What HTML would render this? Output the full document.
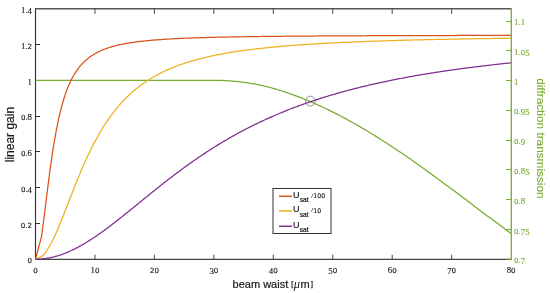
<!DOCTYPE html>
<html><head><meta charset="utf-8"><title>plot</title>
<style>
html,body{margin:0;padding:0;background:#fff;}
svg{display:block}
.tk{font-family:"Liberation Serif",serif;font-size:9px;fill:#222;stroke:#222;stroke-width:0.15px}
.g{fill:#77ac30;stroke:#77ac30}
.lb{font-family:"Liberation Sans",sans-serif;font-size:11px;fill:#1a1a1a;stroke:#1a1a1a;stroke-width:0.2px}
.lb.g{fill:#77ac30;stroke:#77ac30;stroke-width:0.1px}
.lg{font-family:"Liberation Sans",sans-serif;font-size:9px;fill:#151515;stroke:#151515;stroke-width:0.15px}
</style></head><body>
<svg width="550" height="293" viewBox="0 0 550 293">
<rect width="550" height="293" fill="#fff"/>
<path d="M35.5,259.90 V8.10" fill="none" stroke="#333333" stroke-width="1.15"/>
<path d="M35.5,8.70 H511.1" fill="none" stroke="#555" stroke-width="1.5"/>
<path d="M35.5,259.35 H511.1" fill="none" stroke="#444" stroke-width="1.25"/>
<path d="M35.5,223.5 H40.0 M35.5,187.5 H40.0 M35.5,151.5 H40.0 M35.5,116.5 H40.0 M35.5,80.5 H40.0 M35.5,44.5 H40.0" fill="none" stroke="#333333" stroke-width="1"/>
<path d="M94.95,259.2 V254.7 M94.95,8.8 V13.9 M154.40,259.2 V254.7 M154.40,8.8 V13.9 M213.85,259.2 V254.7 M213.85,8.8 V13.9 M273.30,259.2 V254.7 M273.30,8.8 V13.9 M332.75,259.2 V254.7 M332.75,8.8 V13.9 M392.20,259.2 V254.7 M392.20,8.8 V13.9 M451.65,259.2 V254.7 M451.65,8.8 V13.9" fill="none" stroke="#333333" stroke-width="0.9"/>
<circle cx="310.3" cy="101.1" r="4.9" fill="none" stroke="#777" stroke-width="0.8"/>
<g fill="none" stroke-width="1.25" stroke-linejoin="round">
<path d="M35.50,80.40 L200.00,80.40 L202.00,80.40 L204.00,80.40 L206.00,80.40 L208.00,80.40 L210.00,80.40 L212.00,80.40 L214.00,80.40 L216.00,80.40 L218.00,80.40 L220.00,80.40 L222.00,80.45 L224.00,80.55 L226.00,80.66 L228.00,80.78 L230.00,80.93 L232.00,81.08 L234.00,81.26 L236.00,81.45 L238.00,81.65 L240.00,81.88 L242.00,82.12 L244.00,82.38 L246.00,82.65 L248.00,82.95 L250.00,83.26 L252.00,83.60 L254.00,83.95 L256.00,84.32 L258.00,84.71 L260.00,85.12 L262.00,85.55 L264.00,86.01 L266.00,86.48 L268.00,86.98 L270.00,87.49 L272.00,88.02 L274.00,88.58 L276.00,89.15 L278.00,89.74 L280.00,90.35 L282.00,90.98 L284.00,91.63 L286.00,92.29 L288.00,92.97 L290.00,93.67 L292.00,94.38 L294.00,95.10 L296.00,95.85 L298.00,96.60 L300.00,97.38 L302.00,98.16 L304.00,98.96 L306.00,99.78 L308.00,100.61 L310.00,101.45 L312.00,102.31 L314.00,103.18 L316.00,104.06 L318.00,104.96 L320.00,105.87 L322.00,106.80 L324.00,107.74 L326.00,108.69 L328.00,109.65 L330.00,110.63 L332.00,111.62 L334.00,112.62 L336.00,113.64 L338.00,114.67 L340.00,115.71 L342.00,116.76 L344.00,117.83 L346.00,118.90 L348.00,119.99 L350.00,121.09 L352.00,122.20 L354.00,123.33 L356.00,124.46 L358.00,125.61 L360.00,126.76 L362.00,127.93 L364.00,129.11 L366.00,130.30 L368.00,131.50 L370.00,132.71 L372.00,133.93 L374.00,135.16 L376.00,136.40 L378.00,137.65 L380.00,138.91 L382.00,140.18 L384.00,141.45 L386.00,142.74 L388.00,144.04 L390.00,145.34 L392.00,146.66 L394.00,147.98 L396.00,149.31 L398.00,150.65 L400.00,152.00 L402.00,153.35 L404.00,154.71 L406.00,156.09 L408.00,157.47 L410.00,158.85 L412.00,160.25 L414.00,161.65 L416.00,163.05 L418.00,164.47 L420.00,165.89 L422.00,167.32 L424.00,168.75 L426.00,170.20 L428.00,171.64 L430.00,173.09 L432.00,174.55 L434.00,176.01 L436.00,177.48 L438.00,178.95 L440.00,180.43 L442.00,181.91 L444.00,183.39 L446.00,184.88 L448.00,186.37 L450.00,187.86 L452.00,189.36 L454.00,190.85 L456.00,192.35 L458.00,193.85 L460.00,195.35 L462.00,196.86 L464.00,198.36 L466.00,199.86 L468.00,201.37 L470.00,202.87 L472.00,204.37 L474.00,205.88 L476.00,207.38 L478.00,208.88 L480.00,210.38 L482.00,211.88 L484.00,213.38 L486.00,214.88 L488.00,216.38 L490.00,217.87 L492.00,219.36 L494.00,220.86 L496.00,222.34 L498.00,223.83 L500.00,225.32 L502.00,226.80 L504.00,228.28 L506.00,229.76 L508.00,231.23 L510.00,232.70 L511.10,233.51" stroke="#77ac30"/>
<path d="M35.50,259.20 L41.45,236.90 L42.62,228.52 L43.80,219.49 L44.98,210.07 L46.15,200.51 L47.33,190.99 L48.51,181.67 L49.68,172.66 L50.86,164.05 L52.04,155.89 L53.22,148.21 L54.39,141.01 L55.57,134.28 L56.75,128.03 L57.92,122.22 L59.10,116.84 L60.28,111.85 L61.46,107.24 L62.63,102.97 L63.81,99.02 L64.99,95.36 L66.16,91.98 L67.34,88.84 L68.52,85.93 L69.69,83.23 L70.87,80.72 L72.05,78.39 L73.23,76.21 L74.40,74.19 L75.58,72.30 L76.76,70.54 L77.93,68.90 L79.11,67.35 L80.29,65.91 L81.47,64.56 L82.64,63.29 L83.82,62.09 L85.00,60.97 L86.17,59.92 L87.35,58.92 L88.53,57.98 L89.71,57.09 L90.88,56.26 L92.06,55.46 L93.24,54.71 L94.41,54.00 L95.59,53.33 L96.77,52.69 L97.94,52.08 L99.12,51.50 L100.30,50.96 L101.48,50.43 L102.65,49.93 L103.83,49.46 L105.01,49.01 L106.18,48.58 L107.36,48.16 L108.54,47.77 L109.72,47.39 L110.89,47.03 L112.07,46.69 L113.25,46.35 L114.42,46.04 L115.60,45.73 L116.78,45.44 L117.96,45.16 L119.13,44.89 L120.31,44.63 L121.49,44.39 L122.66,44.15 L123.84,43.92 L125.02,43.69 L126.19,43.48 L127.37,43.27 L128.55,43.08 L129.73,42.88 L130.90,42.70 L132.08,42.52 L133.26,42.35 L134.43,42.18 L135.61,42.02 L136.79,41.87 L137.97,41.72 L139.14,41.57 L140.32,41.43 L141.50,41.30 L142.67,41.16 L143.85,41.04 L145.03,40.91 L146.21,40.79 L147.38,40.68 L148.56,40.56 L149.74,40.45 L150.91,40.35 L152.09,40.24 L153.27,40.14 L154.44,40.05 L155.62,39.95 L156.80,39.86 L157.98,39.77 L159.15,39.68 L160.33,39.60 L161.51,39.52 L162.68,39.44 L163.86,39.36 L165.04,39.28 L166.22,39.21 L167.39,39.14 L168.57,39.07 L169.75,39.00 L170.92,38.93 L172.10,38.87 L173.28,38.81 L174.46,38.74 L175.63,38.68 L176.81,38.63 L177.99,38.57 L179.16,38.51 L180.34,38.46 L181.52,38.40 L182.69,38.35 L183.87,38.30 L185.05,38.25 L186.23,38.20 L187.40,38.16 L188.58,38.11 L189.76,38.06 L190.93,38.02 L192.11,37.98 L193.29,37.93 L194.47,37.89 L195.64,37.85 L196.82,37.81 L198.00,37.77 L199.17,37.74 L200.35,37.70 L201.53,37.66 L202.70,37.63 L203.88,37.59 L205.06,37.56 L206.24,37.52 L207.41,37.49 L208.59,37.46 L209.77,37.43 L210.94,37.40 L212.12,37.37 L213.30,37.34 L214.48,37.31 L215.65,37.28 L216.83,37.25 L218.01,37.22 L219.18,37.20 L220.36,37.17 L221.54,37.14 L222.72,37.12 L223.89,37.09 L225.07,37.07 L226.25,37.04 L227.42,37.02 L228.60,37.00 L229.78,36.98 L230.95,36.95 L232.13,36.93 L233.31,36.91 L234.49,36.89 L235.66,36.87 L236.84,36.85 L238.02,36.83 L239.19,36.81 L240.37,36.79 L241.55,36.77 L242.73,36.75 L243.90,36.73 L245.08,36.71 L246.26,36.69 L247.43,36.68 L248.61,36.66 L249.79,36.64 L250.97,36.63 L252.14,36.61 L253.32,36.59 L254.50,36.58 L255.67,36.56 L256.85,36.55 L258.03,36.53 L259.20,36.52 L260.38,36.50 L261.56,36.49 L262.74,36.47 L263.91,36.46 L265.09,36.44 L266.27,36.43 L267.44,36.42 L268.62,36.40 L269.80,36.39 L270.98,36.38 L272.15,36.36 L273.33,36.35 L274.51,36.34 L275.68,36.33 L276.86,36.32 L278.04,36.30 L279.22,36.29 L280.39,36.28 L281.57,36.27 L282.75,36.26 L283.92,36.25 L285.10,36.24 L286.28,36.23 L287.45,36.22 L288.63,36.21 L289.81,36.19 L290.99,36.18 L292.16,36.17 L293.34,36.17 L294.52,36.16 L295.69,36.15 L296.87,36.14 L298.05,36.13 L299.23,36.12 L300.40,36.11 L301.58,36.10 L302.76,36.09 L303.93,36.08 L305.11,36.07 L306.29,36.07 L307.47,36.06 L308.64,36.05 L309.82,36.04 L311.00,36.03 L312.17,36.02 L313.35,36.02 L314.53,36.01 L315.70,36.00 L316.88,35.99 L318.06,35.99 L319.24,35.98 L320.41,35.97 L321.59,35.96 L322.77,35.96 L323.94,35.95 L325.12,35.94 L326.30,35.94 L327.48,35.93 L328.65,35.92 L329.83,35.92 L331.01,35.91 L332.18,35.90 L333.36,35.90 L334.54,35.89 L335.72,35.88 L336.89,35.88 L338.07,35.87 L339.25,35.87 L340.42,35.86 L341.60,35.85 L342.78,35.85 L343.95,35.84 L345.13,35.84 L346.31,35.83 L347.49,35.83 L348.66,35.82 L349.84,35.82 L351.02,35.81 L352.19,35.80 L353.37,35.80 L354.55,35.79 L355.73,35.79 L356.90,35.78 L358.08,35.78 L359.26,35.77 L360.43,35.77 L361.61,35.76 L362.79,35.76 L363.96,35.75 L365.14,35.75 L366.32,35.75 L367.50,35.74 L368.67,35.74 L369.85,35.73 L371.03,35.73 L372.20,35.72 L373.38,35.72 L374.56,35.71 L375.74,35.71 L376.91,35.71 L378.09,35.70 L379.27,35.70 L380.44,35.69 L381.62,35.69 L382.80,35.68 L383.98,35.68 L385.15,35.68 L386.33,35.67 L387.51,35.67 L388.68,35.67 L389.86,35.66 L391.04,35.66 L392.21,35.65 L393.39,35.65 L394.57,35.65 L395.75,35.64 L396.92,35.64 L398.10,35.64 L399.28,35.63 L400.45,35.63 L401.63,35.63 L402.81,35.62 L403.99,35.62 L405.16,35.62 L406.34,35.61 L407.52,35.61 L408.69,35.61 L409.87,35.60 L411.05,35.60 L412.23,35.60 L413.40,35.59 L414.58,35.59 L415.76,35.59 L416.93,35.58 L418.11,35.58 L419.29,35.58 L420.46,35.57 L421.64,35.57 L422.82,35.57 L424.00,35.57 L425.17,35.56 L426.35,35.56 L427.53,35.56 L428.70,35.55 L429.88,35.55 L431.06,35.55 L432.24,35.55 L433.41,35.54 L434.59,35.54 L435.77,35.54 L436.94,35.54 L438.12,35.53 L439.30,35.53 L440.48,35.53 L441.65,35.53 L442.83,35.52 L444.01,35.52 L445.18,35.52 L446.36,35.52 L447.54,35.51 L448.71,35.51 L449.89,35.51 L451.07,35.51 L452.25,35.50 L453.42,35.50 L454.60,35.50 L455.78,35.50 L456.95,35.49 L458.13,35.49 L459.31,35.49 L460.49,35.49 L461.66,35.49 L462.84,35.48 L464.02,35.48 L465.19,35.48 L466.37,35.48 L467.55,35.48 L468.73,35.47 L469.90,35.47 L471.08,35.47 L472.26,35.47 L473.43,35.47 L474.61,35.46 L475.79,35.46 L476.96,35.46 L478.14,35.46 L479.32,35.46 L480.50,35.45 L481.67,35.45 L482.85,35.45 L484.03,35.45 L485.20,35.45 L486.38,35.44 L487.56,35.44 L488.74,35.44 L489.91,35.44 L491.09,35.44 L492.27,35.44 L493.44,35.43 L494.62,35.43 L495.80,35.43 L496.98,35.43 L498.15,35.43 L499.33,35.42 L500.51,35.42 L501.68,35.42 L502.86,35.42 L504.04,35.42 L505.21,35.42 L506.39,35.41 L507.57,35.41 L508.75,35.41 L509.92,35.41 L511.10,35.41" stroke="#d95319"/>
<path d="M35.50,259.20 L41.45,256.75 L42.62,255.70 L43.80,254.48 L44.98,253.08 L46.15,251.52 L47.33,249.80 L48.51,247.94 L49.68,245.94 L50.86,243.80 L52.04,241.54 L53.22,239.17 L54.39,236.70 L55.57,234.13 L56.75,231.48 L57.92,228.75 L59.10,225.96 L60.28,223.11 L61.46,220.21 L62.63,217.27 L63.81,214.30 L64.99,211.30 L66.16,208.29 L67.34,205.26 L68.52,202.23 L69.69,199.21 L70.87,196.19 L72.05,193.18 L73.23,190.19 L74.40,187.22 L75.58,184.27 L76.76,181.36 L77.93,178.48 L79.11,175.63 L80.29,172.82 L81.47,170.05 L82.64,167.32 L83.82,164.64 L85.00,162.00 L86.17,159.40 L87.35,156.85 L88.53,154.35 L89.71,151.90 L90.88,149.49 L92.06,147.14 L93.24,144.83 L94.41,142.57 L95.59,140.36 L96.77,138.20 L97.94,136.08 L99.12,134.01 L100.30,131.99 L101.48,130.02 L102.65,128.09 L103.83,126.20 L105.01,124.36 L106.18,122.56 L107.36,120.81 L108.54,119.10 L109.72,117.42 L110.89,115.79 L112.07,114.20 L113.25,112.64 L114.42,111.13 L115.60,109.65 L116.78,108.20 L117.96,106.79 L119.13,105.42 L120.31,104.08 L121.49,102.77 L122.66,101.49 L123.84,100.24 L125.02,99.03 L126.19,97.84 L127.37,96.68 L128.55,95.55 L129.73,94.45 L130.90,93.37 L132.08,92.32 L133.26,91.29 L134.43,90.29 L135.61,89.31 L136.79,88.36 L137.97,87.42 L139.14,86.51 L140.32,85.62 L141.50,84.75 L142.67,83.91 L143.85,83.08 L145.03,82.27 L146.21,81.48 L147.38,80.70 L148.56,79.95 L149.74,79.21 L150.91,78.49 L152.09,77.78 L153.27,77.09 L154.44,76.42 L155.62,75.76 L156.80,75.11 L157.98,74.48 L159.15,73.86 L160.33,73.26 L161.51,72.67 L162.68,72.09 L163.86,71.52 L165.04,70.97 L166.22,70.43 L167.39,69.90 L168.57,69.38 L169.75,68.87 L170.92,68.37 L172.10,67.89 L173.28,67.41 L174.46,66.94 L175.63,66.48 L176.81,66.03 L177.99,65.59 L179.16,65.16 L180.34,64.74 L181.52,64.33 L182.69,63.92 L183.87,63.52 L185.05,63.13 L186.23,62.75 L187.40,62.38 L188.58,62.01 L189.76,61.65 L190.93,61.29 L192.11,60.95 L193.29,60.61 L194.47,60.27 L195.64,59.94 L196.82,59.62 L198.00,59.31 L199.17,59.00 L200.35,58.69 L201.53,58.39 L202.70,58.10 L203.88,57.81 L205.06,57.53 L206.24,57.25 L207.41,56.98 L208.59,56.71 L209.77,56.45 L210.94,56.19 L212.12,55.93 L213.30,55.68 L214.48,55.44 L215.65,55.20 L216.83,54.96 L218.01,54.73 L219.18,54.50 L220.36,54.27 L221.54,54.05 L222.72,53.83 L223.89,53.62 L225.07,53.41 L226.25,53.20 L227.42,53.00 L228.60,52.80 L229.78,52.60 L230.95,52.41 L232.13,52.22 L233.31,52.03 L234.49,51.84 L235.66,51.66 L236.84,51.48 L238.02,51.31 L239.19,51.13 L240.37,50.96 L241.55,50.79 L242.73,50.63 L243.90,50.46 L245.08,50.30 L246.26,50.15 L247.43,49.99 L248.61,49.84 L249.79,49.69 L250.97,49.54 L252.14,49.39 L253.32,49.25 L254.50,49.10 L255.67,48.96 L256.85,48.83 L258.03,48.69 L259.20,48.56 L260.38,48.42 L261.56,48.29 L262.74,48.16 L263.91,48.04 L265.09,47.91 L266.27,47.79 L267.44,47.67 L268.62,47.55 L269.80,47.43 L270.98,47.31 L272.15,47.20 L273.33,47.09 L274.51,46.98 L275.68,46.86 L276.86,46.76 L278.04,46.65 L279.22,46.54 L280.39,46.44 L281.57,46.34 L282.75,46.23 L283.92,46.13 L285.10,46.04 L286.28,45.94 L287.45,45.84 L288.63,45.75 L289.81,45.65 L290.99,45.56 L292.16,45.47 L293.34,45.38 L294.52,45.29 L295.69,45.20 L296.87,45.12 L298.05,45.03 L299.23,44.95 L300.40,44.86 L301.58,44.78 L302.76,44.70 L303.93,44.62 L305.11,44.54 L306.29,44.46 L307.47,44.38 L308.64,44.30 L309.82,44.23 L311.00,44.15 L312.17,44.08 L313.35,44.01 L314.53,43.94 L315.70,43.86 L316.88,43.79 L318.06,43.72 L319.24,43.66 L320.41,43.59 L321.59,43.52 L322.77,43.45 L323.94,43.39 L325.12,43.32 L326.30,43.26 L327.48,43.20 L328.65,43.13 L329.83,43.07 L331.01,43.01 L332.18,42.95 L333.36,42.89 L334.54,42.83 L335.72,42.77 L336.89,42.71 L338.07,42.66 L339.25,42.60 L340.42,42.55 L341.60,42.49 L342.78,42.44 L343.95,42.38 L345.13,42.33 L346.31,42.27 L347.49,42.22 L348.66,42.17 L349.84,42.12 L351.02,42.07 L352.19,42.02 L353.37,41.97 L354.55,41.92 L355.73,41.87 L356.90,41.82 L358.08,41.78 L359.26,41.73 L360.43,41.68 L361.61,41.64 L362.79,41.59 L363.96,41.54 L365.14,41.50 L366.32,41.46 L367.50,41.41 L368.67,41.37 L369.85,41.33 L371.03,41.28 L372.20,41.24 L373.38,41.20 L374.56,41.16 L375.74,41.12 L376.91,41.08 L378.09,41.04 L379.27,41.00 L380.44,40.96 L381.62,40.92 L382.80,40.88 L383.98,40.84 L385.15,40.81 L386.33,40.77 L387.51,40.73 L388.68,40.69 L389.86,40.66 L391.04,40.62 L392.21,40.59 L393.39,40.55 L394.57,40.52 L395.75,40.48 L396.92,40.45 L398.10,40.41 L399.28,40.38 L400.45,40.35 L401.63,40.31 L402.81,40.28 L403.99,40.25 L405.16,40.22 L406.34,40.19 L407.52,40.15 L408.69,40.12 L409.87,40.09 L411.05,40.06 L412.23,40.03 L413.40,40.00 L414.58,39.97 L415.76,39.94 L416.93,39.91 L418.11,39.88 L419.29,39.86 L420.46,39.83 L421.64,39.80 L422.82,39.77 L424.00,39.74 L425.17,39.72 L426.35,39.69 L427.53,39.66 L428.70,39.63 L429.88,39.61 L431.06,39.58 L432.24,39.56 L433.41,39.53 L434.59,39.50 L435.77,39.48 L436.94,39.45 L438.12,39.43 L439.30,39.40 L440.48,39.38 L441.65,39.35 L442.83,39.33 L444.01,39.31 L445.18,39.28 L446.36,39.26 L447.54,39.24 L448.71,39.21 L449.89,39.19 L451.07,39.17 L452.25,39.14 L453.42,39.12 L454.60,39.10 L455.78,39.08 L456.95,39.06 L458.13,39.03 L459.31,39.01 L460.49,38.99 L461.66,38.97 L462.84,38.95 L464.02,38.93 L465.19,38.91 L466.37,38.89 L467.55,38.87 L468.73,38.85 L469.90,38.83 L471.08,38.81 L472.26,38.79 L473.43,38.77 L474.61,38.75 L475.79,38.73 L476.96,38.71 L478.14,38.69 L479.32,38.67 L480.50,38.65 L481.67,38.64 L482.85,38.62 L484.03,38.60 L485.20,38.58 L486.38,38.56 L487.56,38.55 L488.74,38.53 L489.91,38.51 L491.09,38.49 L492.27,38.48 L493.44,38.46 L494.62,38.44 L495.80,38.42 L496.98,38.41 L498.15,38.39 L499.33,38.38 L500.51,38.36 L501.68,38.34 L502.86,38.33 L504.04,38.31 L505.21,38.29 L506.39,38.28 L507.57,38.26 L508.75,38.25 L509.92,38.23 L511.10,38.22" stroke="#edb120"/>
<path d="M35.50,259.20 L41.45,258.95 L42.62,258.85 L43.80,258.72 L44.98,258.57 L46.15,258.41 L47.33,258.22 L48.51,258.02 L49.68,257.80 L50.86,257.56 L52.04,257.30 L53.22,257.02 L54.39,256.73 L55.57,256.41 L56.75,256.08 L57.92,255.73 L59.10,255.36 L60.28,254.98 L61.46,254.58 L62.63,254.16 L63.81,253.72 L64.99,253.27 L66.16,252.80 L67.34,252.31 L68.52,251.81 L69.69,251.30 L70.87,250.76 L72.05,250.22 L73.23,249.65 L74.40,249.07 L75.58,248.48 L76.76,247.88 L77.93,247.26 L79.11,246.62 L80.29,245.97 L81.47,245.31 L82.64,244.64 L83.82,243.95 L85.00,243.26 L86.17,242.55 L87.35,241.82 L88.53,241.09 L89.71,240.35 L90.88,239.59 L92.06,238.82 L93.24,238.05 L94.41,237.26 L95.59,236.47 L96.77,235.66 L97.94,234.85 L99.12,234.03 L100.30,233.19 L101.48,232.35 L102.65,231.51 L103.83,230.65 L105.01,229.79 L106.18,228.92 L107.36,228.05 L108.54,227.17 L109.72,226.28 L110.89,225.38 L112.07,224.48 L113.25,223.58 L114.42,222.67 L115.60,221.76 L116.78,220.84 L117.96,219.91 L119.13,218.99 L120.31,218.06 L121.49,217.12 L122.66,216.19 L123.84,215.24 L125.02,214.30 L126.19,213.36 L127.37,212.41 L128.55,211.46 L129.73,210.51 L130.90,209.55 L132.08,208.60 L133.26,207.65 L134.43,206.69 L135.61,205.73 L136.79,204.77 L137.97,203.82 L139.14,202.86 L140.32,201.90 L141.50,200.94 L142.67,199.99 L143.85,199.03 L145.03,198.07 L146.21,197.12 L147.38,196.16 L148.56,195.21 L149.74,194.26 L150.91,193.31 L152.09,192.36 L153.27,191.42 L154.44,190.47 L155.62,189.53 L156.80,188.59 L157.98,187.65 L159.15,186.72 L160.33,185.79 L161.51,184.86 L162.68,183.93 L163.86,183.01 L165.04,182.08 L166.22,181.17 L167.39,180.25 L168.57,179.34 L169.75,178.43 L170.92,177.53 L172.10,176.63 L173.28,175.73 L174.46,174.84 L175.63,173.95 L176.81,173.06 L177.99,172.18 L179.16,171.31 L180.34,170.43 L181.52,169.56 L182.69,168.70 L183.87,167.84 L185.05,166.98 L186.23,166.13 L187.40,165.28 L188.58,164.44 L189.76,163.60 L190.93,162.76 L192.11,161.93 L193.29,161.11 L194.47,160.29 L195.64,159.47 L196.82,158.66 L198.00,157.85 L199.17,157.05 L200.35,156.26 L201.53,155.46 L202.70,154.68 L203.88,153.89 L205.06,153.11 L206.24,152.34 L207.41,151.57 L208.59,150.81 L209.77,150.05 L210.94,149.30 L212.12,148.55 L213.30,147.80 L214.48,147.06 L215.65,146.33 L216.83,145.60 L218.01,144.87 L219.18,144.15 L220.36,143.44 L221.54,142.73 L222.72,142.02 L223.89,141.32 L225.07,140.63 L226.25,139.94 L227.42,139.25 L228.60,138.57 L229.78,137.89 L230.95,137.22 L232.13,136.55 L233.31,135.89 L234.49,135.23 L235.66,134.58 L236.84,133.93 L238.02,133.29 L239.19,132.65 L240.37,132.01 L241.55,131.38 L242.73,130.76 L243.90,130.14 L245.08,129.52 L246.26,128.91 L247.43,128.30 L248.61,127.70 L249.79,127.10 L250.97,126.51 L252.14,125.92 L253.32,125.34 L254.50,124.76 L255.67,124.18 L256.85,123.61 L258.03,123.04 L259.20,122.48 L260.38,121.92 L261.56,121.36 L262.74,120.81 L263.91,120.27 L265.09,119.73 L266.27,119.19 L267.44,118.65 L268.62,118.12 L269.80,117.60 L270.98,117.08 L272.15,116.56 L273.33,116.04 L274.51,115.53 L275.68,115.03 L276.86,114.53 L278.04,114.03 L279.22,113.53 L280.39,113.04 L281.57,112.56 L282.75,112.07 L283.92,111.59 L285.10,111.12 L286.28,110.65 L287.45,110.18 L288.63,109.71 L289.81,109.25 L290.99,108.79 L292.16,108.34 L293.34,107.89 L294.52,107.44 L295.69,107.00 L296.87,106.56 L298.05,106.12 L299.23,105.69 L300.40,105.26 L301.58,104.83 L302.76,104.41 L303.93,103.99 L305.11,103.57 L306.29,103.16 L307.47,102.75 L308.64,102.34 L309.82,101.94 L311.00,101.54 L312.17,101.14 L313.35,100.74 L314.53,100.35 L315.70,99.96 L316.88,99.58 L318.06,99.19 L319.24,98.81 L320.41,98.44 L321.59,98.06 L322.77,97.69 L323.94,97.32 L325.12,96.96 L326.30,96.60 L327.48,96.24 L328.65,95.88 L329.83,95.52 L331.01,95.17 L332.18,94.82 L333.36,94.48 L334.54,94.13 L335.72,93.79 L336.89,93.45 L338.07,93.12 L339.25,92.78 L340.42,92.45 L341.60,92.13 L342.78,91.80 L343.95,91.48 L345.13,91.16 L346.31,90.84 L347.49,90.52 L348.66,90.21 L349.84,89.90 L351.02,89.59 L352.19,89.28 L353.37,88.98 L354.55,88.68 L355.73,88.38 L356.90,88.08 L358.08,87.78 L359.26,87.49 L360.43,87.20 L361.61,86.91 L362.79,86.62 L363.96,86.34 L365.14,86.06 L366.32,85.78 L367.50,85.50 L368.67,85.22 L369.85,84.95 L371.03,84.68 L372.20,84.41 L373.38,84.14 L374.56,83.87 L375.74,83.61 L376.91,83.35 L378.09,83.09 L379.27,82.83 L380.44,82.57 L381.62,82.32 L382.80,82.07 L383.98,81.81 L385.15,81.57 L386.33,81.32 L387.51,81.07 L388.68,80.83 L389.86,80.59 L391.04,80.35 L392.21,80.11 L393.39,79.87 L394.57,79.64 L395.75,79.41 L396.92,79.17 L398.10,78.94 L399.28,78.72 L400.45,78.49 L401.63,78.26 L402.81,78.04 L403.99,77.82 L405.16,77.60 L406.34,77.38 L407.52,77.16 L408.69,76.95 L409.87,76.73 L411.05,76.52 L412.23,76.31 L413.40,76.10 L414.58,75.89 L415.76,75.69 L416.93,75.48 L418.11,75.28 L419.29,75.08 L420.46,74.87 L421.64,74.68 L422.82,74.48 L424.00,74.28 L425.17,74.09 L426.35,73.89 L427.53,73.70 L428.70,73.51 L429.88,73.32 L431.06,73.13 L432.24,72.94 L433.41,72.76 L434.59,72.57 L435.77,72.39 L436.94,72.21 L438.12,72.02 L439.30,71.84 L440.48,71.67 L441.65,71.49 L442.83,71.31 L444.01,71.14 L445.18,70.96 L446.36,70.79 L447.54,70.62 L448.71,70.45 L449.89,70.28 L451.07,70.11 L452.25,69.95 L453.42,69.78 L454.60,69.62 L455.78,69.45 L456.95,69.29 L458.13,69.13 L459.31,68.97 L460.49,68.81 L461.66,68.65 L462.84,68.49 L464.02,68.34 L465.19,68.18 L466.37,68.03 L467.55,67.88 L468.73,67.72 L469.90,67.57 L471.08,67.42 L472.26,67.27 L473.43,67.13 L474.61,66.98 L475.79,66.83 L476.96,66.69 L478.14,66.54 L479.32,66.40 L480.50,66.26 L481.67,66.12 L482.85,65.98 L484.03,65.84 L485.20,65.70 L486.38,65.56 L487.56,65.42 L488.74,65.29 L489.91,65.15 L491.09,65.02 L492.27,64.88 L493.44,64.75 L494.62,64.62 L495.80,64.49 L496.98,64.36 L498.15,64.23 L499.33,64.10 L500.51,63.97 L501.68,63.84 L502.86,63.72 L504.04,63.59 L505.21,63.47 L506.39,63.34 L507.57,63.22 L508.75,63.10 L509.92,62.98 L511.10,62.86" stroke="#7e2f8e"/>
</g>
<path d="M511.30,259.90 V8.00" fill="none" stroke="#77ac30" stroke-width="1.3"/>
<path d="M511.1,259.2 H506.1 M511.1,229.5 H506.1 M511.1,199.5 H506.1 M511.1,169.5 H506.1 M511.1,140.5 H506.1 M511.1,110.5 H506.1 M511.1,80.5 H506.1 M511.1,50.5 H506.1 M511.1,21.5 H506.1" fill="none" stroke="#77ac30" stroke-width="1"/>
<text x="35.50" y="273" text-anchor="middle" class="tk" aria-label="0"><tspan font-size="7.10px" font-family="DejaVu Sans,sans-serif">0</tspan></text>
<text x="94.95" y="273" text-anchor="middle" class="tk" aria-label="10"><tspan font-size="8.80px">1</tspan><tspan font-size="7.10px" font-family="DejaVu Sans,sans-serif">0</tspan></text>
<text x="154.40" y="273" text-anchor="middle" class="tk" aria-label="20"><tspan font-size="7.10px" font-family="DejaVu Sans,sans-serif">20</tspan></text>
<text x="213.85" y="273" text-anchor="middle" class="tk" aria-label="30"><tspan font-size="8.80px" dy="1.0">3</tspan><tspan font-size="7.10px" font-family="DejaVu Sans,sans-serif" dy="-1.0">0</tspan></text>
<text x="273.30" y="273" text-anchor="middle" class="tk" aria-label="40"><tspan font-size="8.80px" dy="1.0">4</tspan><tspan font-size="7.10px" font-family="DejaVu Sans,sans-serif" dy="-1.0">0</tspan></text>
<text x="332.75" y="273" text-anchor="middle" class="tk" aria-label="50"><tspan font-size="8.80px" dy="1.0">5</tspan><tspan font-size="7.10px" font-family="DejaVu Sans,sans-serif" dy="-1.0">0</tspan></text>
<text x="392.20" y="273" text-anchor="middle" class="tk" aria-label="60"><tspan font-size="8.80px">6</tspan><tspan font-size="7.10px" font-family="DejaVu Sans,sans-serif">0</tspan></text>
<text x="451.65" y="273" text-anchor="middle" class="tk" aria-label="70"><tspan font-size="8.80px" dy="1.0">7</tspan><tspan font-size="7.10px" font-family="DejaVu Sans,sans-serif" dy="-1.0">0</tspan></text>
<text x="511.10" y="273" text-anchor="middle" class="tk" aria-label="80"><tspan font-size="8.80px">8</tspan><tspan font-size="7.10px" font-family="DejaVu Sans,sans-serif">0</tspan></text>
<text x="32" y="263" text-anchor="end" class="tk" aria-label="0"><tspan font-size="7.10px" font-family="DejaVu Sans,sans-serif">0</tspan></text>
<text x="32" y="228" text-anchor="end" class="tk" aria-label="0.2"><tspan font-size="7.10px" font-family="DejaVu Sans,sans-serif">0</tspan><tspan font-size="8.80px">.</tspan><tspan font-size="7.10px" font-family="DejaVu Sans,sans-serif">2</tspan></text>
<text x="32" y="192" text-anchor="end" class="tk" aria-label="0.4"><tspan font-size="7.10px" font-family="DejaVu Sans,sans-serif">0</tspan><tspan font-size="8.80px">.</tspan><tspan font-size="8.80px" dy="1.0">4</tspan></text>
<text x="32" y="156" text-anchor="end" class="tk" aria-label="0.6"><tspan font-size="7.10px" font-family="DejaVu Sans,sans-serif">0</tspan><tspan font-size="8.80px">.6</tspan></text>
<text x="32" y="120" text-anchor="end" class="tk" aria-label="0.8"><tspan font-size="7.10px" font-family="DejaVu Sans,sans-serif">0</tspan><tspan font-size="8.80px">.8</tspan></text>
<text x="32" y="85" text-anchor="end" class="tk" aria-label="1"><tspan font-size="8.80px">1</tspan></text>
<text x="32" y="49" text-anchor="end" class="tk" aria-label="1.2"><tspan font-size="8.80px">1.</tspan><tspan font-size="7.10px" font-family="DejaVu Sans,sans-serif">2</tspan></text>
<text x="32" y="13" text-anchor="end" class="tk" aria-label="1.4"><tspan font-size="8.80px">1.</tspan><tspan font-size="8.80px" dy="1.0">4</tspan></text>
<text x="514.1" y="263" class="tk g" aria-label="0.7"><tspan font-size="7.10px" font-family="DejaVu Sans,sans-serif">0</tspan><tspan font-size="8.80px">.</tspan><tspan font-size="8.80px" dy="1.0">7</tspan></text>
<text x="514.1" y="234" class="tk g" aria-label="0.75"><tspan font-size="7.10px" font-family="DejaVu Sans,sans-serif">0</tspan><tspan font-size="8.80px">.</tspan><tspan font-size="8.80px" dy="1.0">75</tspan></text>
<text x="514.1" y="204" class="tk g" aria-label="0.8"><tspan font-size="7.10px" font-family="DejaVu Sans,sans-serif">0</tspan><tspan font-size="8.80px">.8</tspan></text>
<text x="514.1" y="174" class="tk g" aria-label="0.85"><tspan font-size="7.10px" font-family="DejaVu Sans,sans-serif">0</tspan><tspan font-size="8.80px">.8</tspan><tspan font-size="8.80px" dy="1.0">5</tspan></text>
<text x="514.1" y="144" class="tk g" aria-label="0.9"><tspan font-size="7.10px" font-family="DejaVu Sans,sans-serif">0</tspan><tspan font-size="8.80px">.</tspan><tspan font-size="8.80px" dy="1.0">9</tspan></text>
<text x="514.1" y="114" class="tk g" aria-label="0.95"><tspan font-size="7.10px" font-family="DejaVu Sans,sans-serif">0</tspan><tspan font-size="8.80px">.</tspan><tspan font-size="8.80px" dy="1.0">95</tspan></text>
<text x="514.1" y="85" class="tk g" aria-label="1"><tspan font-size="8.80px">1</tspan></text>
<text x="514.1" y="55" class="tk g" aria-label="1.05"><tspan font-size="8.80px">1.</tspan><tspan font-size="7.10px" font-family="DejaVu Sans,sans-serif">0</tspan><tspan font-size="8.80px" dy="1.0">5</tspan></text>
<text x="514.1" y="25" class="tk g" aria-label="1.1"><tspan font-size="8.80px">1.1</tspan></text>
<text class="lb" style="font-size:12px" transform="translate(14.1,134.6) rotate(-90)" text-anchor="middle">linear gain</text>
<text class="lb" x="232.6" y="287.6" aria-label="beam waist [μm]">beam waist <tspan font-size="7px" dy="-1.3" dx="-0.1" stroke-width="0.25">[</tspan><tspan font-family="Liberation Serif,serif" font-style="italic" font-size="12.5px" dy="1.3" dx="0.5" stroke="none">μ</tspan><tspan dx="0.5">m</tspan><tspan font-size="7px" dy="-1.3" dx="1.3" stroke-width="0.25">]</tspan></text>
<text class="lb g" style="font-size:11.8px" transform="translate(537.1,138.4) rotate(90)" text-anchor="middle">diffraction transmission</text>
<g>
<rect x="273" y="188.5" width="58" height="45" fill="#fff" stroke="#333" stroke-width="1"/>
<path d="M279,196.3 H292" stroke="#d95319" stroke-width="1.5"/>
<path d="M279,210.9 H292" stroke="#edb120" stroke-width="1.5"/>
<path d="M279,226.3 H292" stroke="#7e2f8e" stroke-width="1.5"/>
<text class="lg" x="293" y="197.5" aria-label="Usat /100">U<tspan font-size="6.6px" dy="4.4" dx="0.2" stroke="#1a1a1a" stroke-width="0.2">sat</tspan><tspan class="tk" style="font-size:6.4px" dy="-4.4" dx="2.8">/</tspan><tspan class="tk" style="font-size:6.3px;font-family:DejaVu Sans,sans-serif" dy="0.7" dx="0.2">100</tspan></text>
<text class="lg" x="293" y="212.1" aria-label="Usat /10">U<tspan font-size="6.6px" dy="4.4" dx="0.2" stroke="#1a1a1a" stroke-width="0.2">sat</tspan><tspan class="tk" style="font-size:6.4px" dy="-4.4" dx="2.8">/</tspan><tspan class="tk" style="font-size:6.3px;font-family:DejaVu Sans,sans-serif" dy="0.7" dx="0.2">10</tspan></text>
<text class="lg" x="293" y="227.7" aria-label="Usat">U<tspan font-size="6.6px" dy="4.4" dx="0.2" stroke="#1a1a1a" stroke-width="0.2">sat</tspan></text>
</g>
</svg>
</body></html>
